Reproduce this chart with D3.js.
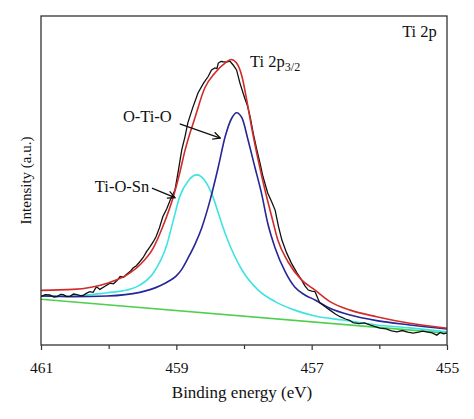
<!DOCTYPE html>
<html>
<head>
<meta charset="utf-8">
<script src="https://cdn.jsdelivr.net/npm/d3@7"></script>
<style>
  body { margin: 0; background: #fff; }
  text { font-family: "Liberation Serif", "DejaVu Serif", serif; fill: #111; }
</style>
</head>
<body>
<svg id="chart" width="474" height="419"></svg>
<script>
// binding energy (eV) and intensity (a.u.)
const rawData = [
  [461.00,14.7],[460.94,15.3],[460.87,15.2],[460.81,14.6],[460.76,14.7],[460.71,15.4],[460.67,15.3],
  [460.62,14.7],[460.57,14.8],[460.52,15.5],[460.47,15.3],[460.42,15.0],[460.38,15.0],[460.33,15.7],
  [460.28,16.2],[460.23,16.0],[460.18,17.7],[460.13,16.9],[460.06,17.8],[459.98,18.8],[459.93,18.6],
  [459.88,19.5],[459.83,20.8],[459.78,20.6],[459.73,21.6],[459.68,22.4],[459.64,23.4],[459.59,24.1],
  [459.54,25.3],[459.49,26.6],[459.44,28.4],[459.39,29.8],[459.34,31.4],[459.30,32.9],[459.25,35.6],
  [459.20,39.0],[459.14,41.5],[459.09,44.1],[459.02,47.1],[458.97,53.0],[458.92,59.3],[458.87,63.5],
  [458.83,67.5],[458.76,72.0],[458.68,76.6],[458.60,79.5],[458.53,81.6],[458.48,83.6],[458.43,84.2],
  [458.40,84.0],[458.38,85.7],[458.34,86.2],[458.31,86.1],[458.26,86.0],[458.21,86.3],[458.16,85.1],
  [458.11,83.6],[458.06,79.6],[457.99,75.1],[457.95,72.8],[457.91,69.4],[457.86,64.0],[457.81,59.3],
  [457.76,55.0],[457.72,51.2],[457.65,46.2],[457.59,43.5],[457.54,41.0],[457.49,36.0],[457.44,31.9],
  [457.37,28.0],[457.30,24.9],[457.22,22.0],[457.15,19.8],[457.10,18.0],[457.05,16.7],[457.00,16.4],
  [456.95,16.2],[456.91,14.2],[456.88,12.8],[456.80,11.6],[456.73,10.6],[456.65,9.4],[456.58,8.6],
  [456.50,7.9],[456.44,7.5],[456.39,6.8],[456.30,6.5],[456.22,6.7],[456.14,6.1],[456.06,5.6],
  [455.99,5.1],[455.90,4.9],[455.82,4.3],[455.74,4.0],[455.66,4.4],[455.58,3.9],[455.50,3.6],
  [455.42,3.9],[455.36,4.2],[455.30,4.0],[455.22,3.7],[455.15,3.0],[455.10,3.8],[455.05,3.4],[455.00,3.7]
];

const envelope = [
  [461.00,16.6],[460.53,16.9],[460.02,18.8],[459.73,21.3],[459.54,24.3],[459.34,29.5],[459.20,36.0],
  [459.05,44.7],[458.95,52.3],[458.87,59.3],[458.72,69.4],[458.58,78.1],[458.43,82.7],[458.28,85.7],
  [458.19,86.8],[458.11,85.7],[458.03,81.6],[457.96,74.5],[457.89,66.4],[457.79,56.2],[457.69,47.1],
  [457.59,39.0],[457.50,31.9],[457.35,25.3],[457.15,19.8],[456.95,16.7],[456.73,13.2],[456.43,10.6],
  [456.04,8.6],[455.55,6.6],[455.00,5.1]
];

const peakOTiO = [
  [461.00,14.9],[460.53,14.7],[460.02,14.9],[459.54,16.0],[459.24,18.0],[459.12,19.3],[459.00,21.0],
  [458.92,23.0],[458.83,26.3],[458.72,30.8],[458.62,35.9],[458.50,44.1],[458.38,54.1],[458.28,63.2],
  [458.18,69.0],[458.11,70.6],[458.03,69.0],[457.94,62.3],[457.84,54.1],[457.74,46.0],[457.65,37.1],
  [457.54,29.5],[457.39,22.2],[457.25,17.6],[457.10,15.2],[456.95,13.7],[456.73,11.2],[456.43,9.1],
  [456.04,7.4],[455.55,6.1],[455.00,4.9]
];

const peakTiOSn = [
  [461.00,14.9],[460.53,14.9],[460.02,15.9],[459.73,16.7],[459.54,18.2],[459.34,21.9],[459.14,30.5],
  [459.05,37.5],[458.95,45.1],[458.82,50.0],[458.70,51.7],[458.58,50.0],[458.46,45.1],[458.38,40.1],
  [458.26,32.9],[458.03,22.8],[457.79,16.7],[457.54,13.2],[457.25,10.6],[456.95,8.8],[456.54,7.6],
  [456.04,6.1],[455.55,5.2],[455.00,4.0]
];

const background = [[461.00,13.9],[455.00,3.6]];

const majorTicks = [461, 459, 457, 455];
const minorTicks = [460, 458, 456];

const svg = d3.select("#chart");
const margin = { top: 16, right: 27, bottom: 74, left: 41 };
const width = 474, height = 419;

const x = d3.scaleLinear().domain([461, 455]).range([margin.left, width - margin.right]);
const y = d3.scaleLinear().domain([0, 100]).range([height - margin.bottom, margin.top]);

svg.append("defs").append("clipPath").attr("id", "clip")
  .append("rect")
    .attr("x", margin.left).attr("y", margin.top)
    .attr("width", width - margin.left - margin.right)
    .attr("height", height - margin.top - margin.bottom);

const smooth = d3.line().x(d => x(d[0])).y(d => y(d[1])).curve(d3.curveMonotoneX);
const jagged = d3.line().x(d => x(d[0])).y(d => y(d[1]));

const plot = svg.append("g").attr("clip-path", "url(#clip)");

// sorted so that monotone curve sees increasing x
const asc = arr => arr.slice().sort((a, b) => a[0] - b[0]);

plot.append("path").attr("d", jagged(background))
  .attr("fill", "none").attr("stroke", "#4fcf4f").attr("stroke-width", 1.6);
plot.append("path").attr("d", smooth(asc(peakTiOSn)))
  .attr("fill", "none").attr("stroke", "#3fe3e3").attr("stroke-width", 1.6);
plot.append("path").attr("d", smooth(asc(peakOTiO)))
  .attr("fill", "none").attr("stroke", "#262696").attr("stroke-width", 1.6);
plot.append("path").attr("d", jagged(rawData))
  .attr("fill", "none").attr("stroke", "#111").attr("stroke-width", 1.3);
plot.append("path").attr("d", smooth(asc(envelope)))
  .attr("fill", "none").attr("stroke", "#d22b2b").attr("stroke-width", 1.6);

// frame
svg.append("rect")
  .attr("x", margin.left).attr("y", margin.top)
  .attr("width", width - margin.left - margin.right)
  .attr("height", height - margin.top - margin.bottom)
  .attr("fill", "none").attr("stroke", "#333").attr("stroke-width", 1.3);

const xAxis = svg.append("g")
  .attr("transform", `translate(0,${height - margin.bottom})`)
  .call(d3.axisBottom(x).tickValues(majorTicks).tickSize(5).tickPadding(12).tickFormat(d3.format("d")));
xAxis.select(".domain").remove();
xAxis.selectAll("line").attr("stroke", "#333").attr("stroke-width", 1.2);
xAxis.selectAll("text").attr("font-size", "15.5px").attr("fill", "#111")
  .attr("font-family", "Liberation Serif, serif");

const minorAxis = svg.append("g")
  .attr("transform", `translate(0,${height - margin.bottom})`)
  .call(d3.axisBottom(x).tickValues(minorTicks).tickSize(4).tickFormat(""));
minorAxis.select(".domain").remove();
minorAxis.selectAll("line").attr("stroke", "#333").attr("stroke-width", 1.2);

svg.append("text")
  .attr("x", 242)
  .attr("y", 398)
  .attr("text-anchor", "middle")
  .attr("font-size", "17px")
  .text("Binding energy (eV)");

svg.append("text")
  .attr("transform", `translate(31,${(margin.top + height - margin.bottom) / 2}) rotate(-90)`)
  .attr("text-anchor", "middle")
  .attr("font-size", "15px")
  .text("Intensity (a.u.)");

// annotations
svg.append("defs").append("marker")
  .attr("id", "arrow").attr("viewBox", "0 0 10 10")
  .attr("refX", 9).attr("refY", 5)
  .attr("markerWidth", 7).attr("markerHeight", 7)
  .attr("orient", "auto")
  .append("path").attr("d", "M1,1 L9,5 L1,9")
  .attr("fill", "none").attr("stroke", "#111").attr("stroke-width", 1.4);

svg.append("text").attr("x", x(455.15)).attr("y", y(93.6))
  .attr("text-anchor", "end").attr("font-size", "16.5px").text("Ti 2p");

const t2 = svg.append("text").attr("x", x(457.91)).attr("y", y(84.5)).attr("font-size", "16.5px");
t2.append("tspan").text("Ti 2p");
t2.append("tspan").attr("font-size", "12px").attr("dy", 4).text("3/2");

svg.append("text").attr("x", x(459.79)).attr("y", y(67.8))
  .attr("font-size", "16.5px").text("O-Ti-O");
svg.append("line")
  .attr("x1", x(458.95)).attr("y1", y(67.2))
  .attr("x2", x(458.35)).attr("y2", y(62.9))
  .attr("stroke", "#111").attr("stroke-width", 1.3)
  .attr("marker-end", "url(#arrow)");

svg.append("text").attr("x", x(459.40)).attr("y", y(46.5))
  .attr("text-anchor", "end").attr("font-size", "16.5px").text("Ti-O-Sn");
svg.append("line")
  .attr("x1", x(459.36)).attr("y1", y(47.7))
  .attr("x2", x(459.02)).attr("y2", y(44.8))
  .attr("stroke", "#111").attr("stroke-width", 1.3)
  .attr("marker-end", "url(#arrow)");
</script>
</body>
</html>
